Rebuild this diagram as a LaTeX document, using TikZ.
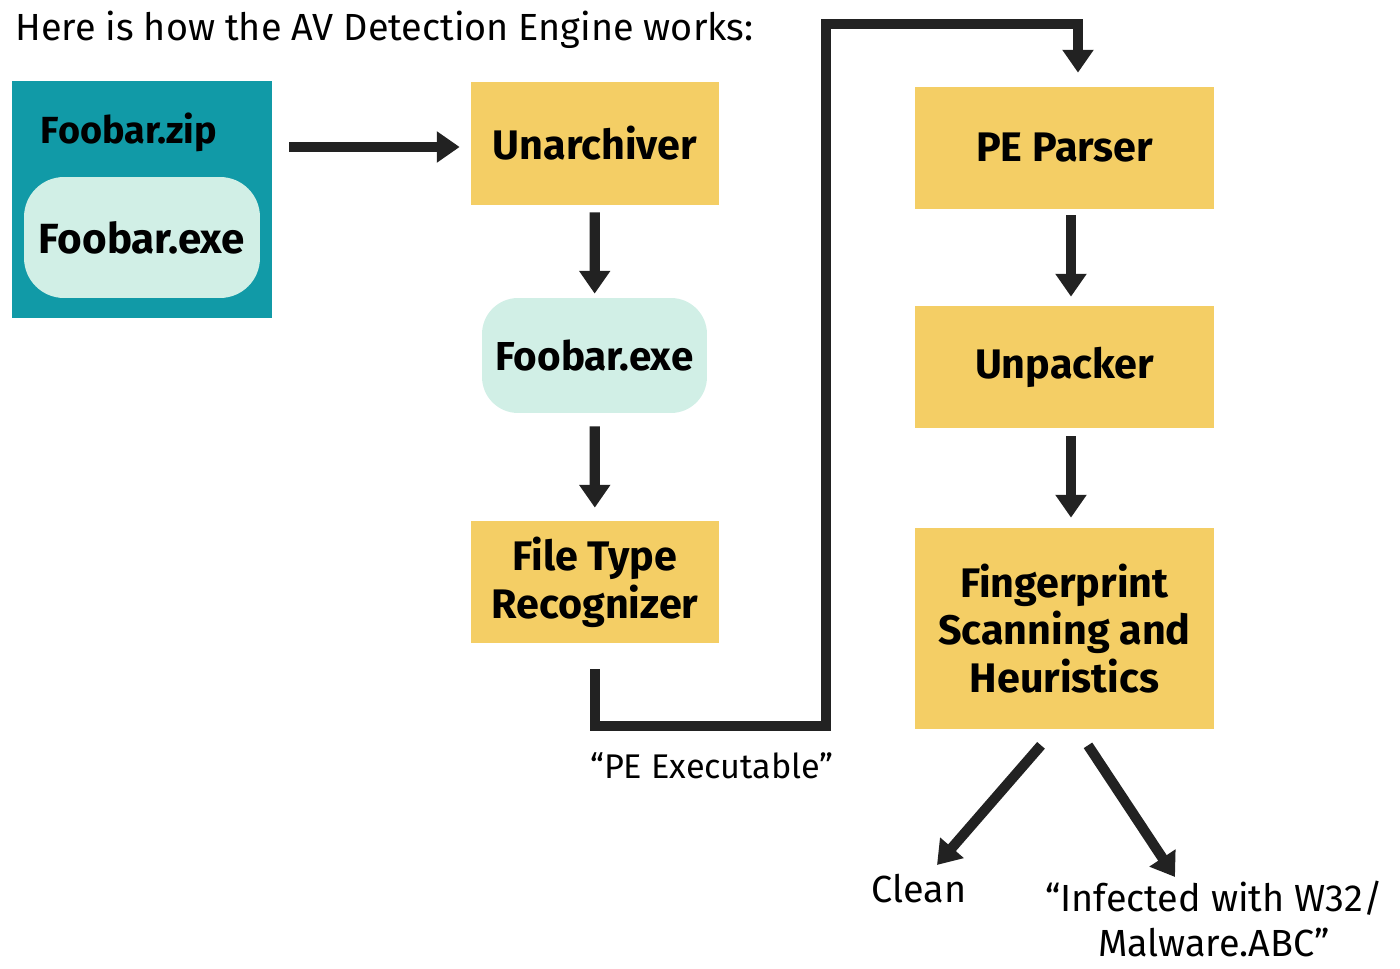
\documentclass[tikz,border=0pt]{standalone}
\usepackage{fontspec}
\setmainfont{Fira Sans}
\usetikzlibrary{arrows.meta}
\definecolor{avteal}{RGB}{17,154,167}
\definecolor{avmint}{RGB}{209,239,230}
\definecolor{avyellow}{RGB}{244,206,101}
\definecolor{avdark}{RGB}{34,34,34}
\tikzset{
  stage/.style={fill=avyellow,inner sep=0pt,align=center,
    font=\bfseries\fontsize{23.5}{27.2}\selectfont},
  exefile/.style={fill=avmint,inner sep=0pt,rounded corners=0.72cm,
    font=\bfseries\fontsize{23}{25}\selectfont},
  note/.style={inner sep=0pt,align=center,font=\fontsize{21.5}{25.5}\selectfont},
  flow/.style={draw=avdark,line width=5.8pt,miter limit=10,
    -{Triangle[length=13pt,width=17pt]}},
}

\begin{document}
\begin{tikzpicture}[x=0.02cm,y=-0.02cm]
\useasboundingbox (0,0) rectangle (1400,969);
\node[note,anchor=west] (title) at (15,30) {Here is how the AV Detection Engine works:};
% zip archive with the packed file
\node[fill=avteal,minimum width=5.2cm,minimum height=4.74cm] (zip) at (142,199.5) {};
\node[inner sep=0pt,font=\bfseries\fontsize{21.5}{22}\selectfont] (ziplabel) at (129,132) {Foobar.zip};
\node[exefile,minimum width=4.72cm,minimum height=2.42cm,rounded corners=0.8cm,
  font=\bfseries\fontsize{24}{25}\selectfont] (inner) at (142,237.5) {Foobar.exe};
% middle column
\node[stage,minimum width=4.96cm,minimum height=2.46cm] (unarch) at (595,143.5) {Unarchiver};
\node[exefile,minimum width=4.5cm,minimum height=2.3cm] (exe) at (594.5,355.5) {Foobar.exe};
\node[stage,minimum width=4.96cm,minimum height=2.44cm] (ftype) at (595,582) {File Type\\Recognizer};
% right column
\node[stage,minimum width=5.98cm,minimum height=2.44cm] (pe) at (1064.5,148) {PE Parser};
\node[stage,minimum width=5.98cm,minimum height=2.44cm] (unpack) at (1064.5,367) {Unpacker};
\node[stage,minimum width=5.98cm,minimum height=4.02cm] (finger) at (1064.5,628.5) {Fingerprint\\Scanning and\\Heuristics};
% results
\node[note,font=\fontsize{19.5}{25.5}\selectfont] (exelabel) at (712,766) {“PE Executable”};
\node[note] (clean) at (919,889) {Clean};
\node[note] (infected) at (1214,919) {“Infected with W32/\\Malware.ABC”};
\coordinate (bend) at (826,726);
\coordinate (over) at (826,24);
\coordinate (cleantip) at (937,865);
\coordinate (infectip) at (1175,877);
% connectors
\draw[flow,shorten <=0.34cm,shorten >=0.22cm] (zip.east |- ziplabel.east) ++(0,15) coordinate (zipout) (zipout) -- (zipout -| unarch.west);
\draw[flow,shorten <=0.14cm,shorten >=0.08cm] (unarch) -- (exe);
\draw[flow,shorten <=0.26cm,shorten >=0.26cm] (exe) -- (ftype);
\draw[flow,shorten <=0.52cm,shorten >=0.28cm] (ftype.south) |- (bend) -- (over) -| ([xshift=0.27cm]pe.north);
\draw[flow,shorten <=0.12cm,shorten >=0.18cm] ([xshift=0.13cm]pe.south) -- ([xshift=0.13cm]unpack.north);
\draw[flow,shorten <=0.16cm,shorten >=0.2cm] ([xshift=0.13cm]unpack.south) -- ([xshift=0.13cm]finger.north);
\draw[flow] ([xshift=-0.47cm,yshift=-0.32cm]finger.south) -- (cleantip);
\draw[flow] ([xshift=0.47cm,yshift=-0.32cm]finger.south) -- (infectip);
\end{tikzpicture}
\end{document}
